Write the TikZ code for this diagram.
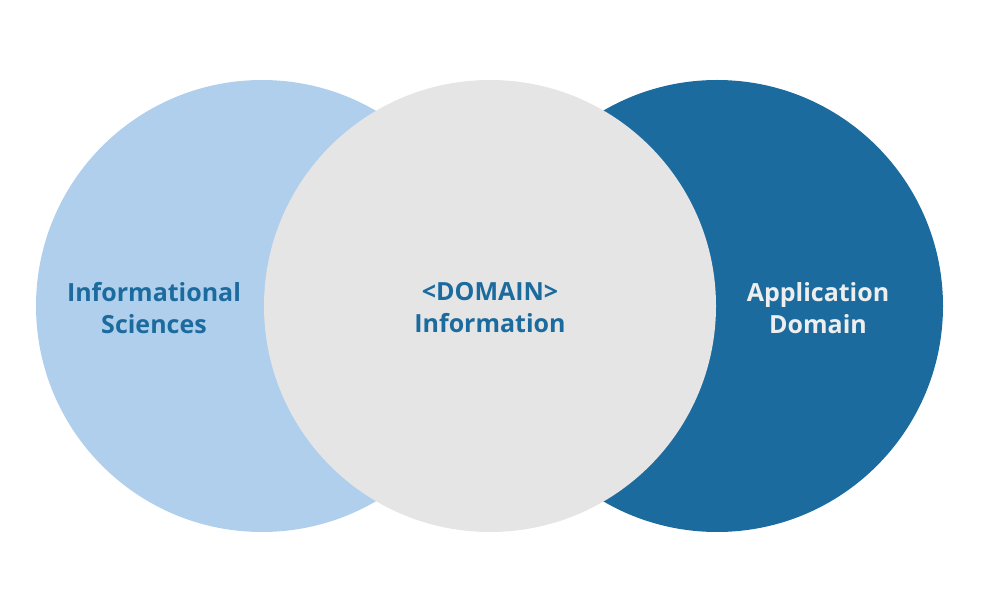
\documentclass[tikz,border=0pt]{standalone}
\usepackage{fontspec}
\setmainfont{Open Sans}
\definecolor{lb}{HTML}{B0CFEC}
\definecolor{gr}{HTML}{E5E5E5}
\definecolor{db}{HTML}{1C6B9E}
\definecolor{wt}{HTML}{EEEEEE}
\begin{document}
\begin{tikzpicture}[x=1pt,y=1pt,
  circ/.style={circle,minimum size=452pt,inner sep=0pt,draw=none},
  lbl/.style={align=center,font=\fontsize{25}{32}\selectfont\bfseries}]
\useasboundingbox (0,0) rectangle (981,613);
\node[circ,fill=lb] (L) at (262,307) {};
\node[circ,fill=db] (R) at (717,307) {};
\node[circ,fill=gr] (M) at (490,307) {};
\node[lbl,text=db] (tL) at (154,305) {Informational\\Sciences};
\node[lbl,text=db] (tM) at (490,305) {<DOMAIN>\\Information};
\node[lbl,text=wt] (tR) at (818,305) {Application\\Domain};
\end{tikzpicture}
\end{document}
